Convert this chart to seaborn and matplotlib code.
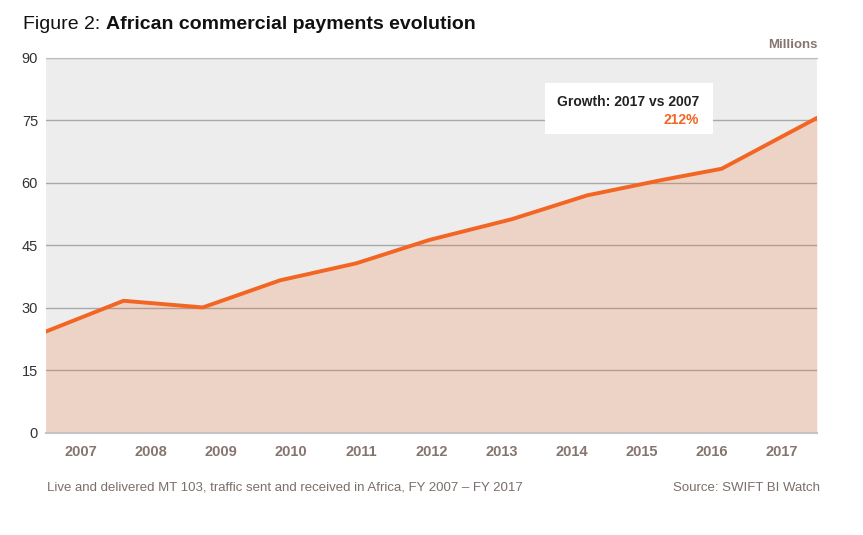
import numpy as np
import pandas as pd
import matplotlib
matplotlib.use("Agg")
import matplotlib.pyplot as plt
import seaborn as sns
from matplotlib.patches import Rectangle

# data (millions of MT 103 messages)
period = [2006.5, 2007.61, 2008.74, 2009.84, 2010.93, 2011.97, 2013.15, 2014.22, 2015.29, 2016.14, 2017.5]
traffic = [24.3, 31.7, 30.1, 36.6, 40.7, 46.3, 51.3, 57.0, 60.7, 63.4, 75.6]
years = [2007, 2008, 2009, 2010, 2011, 2012, 2013, 2014, 2015, 2016, 2017]
y_ticks = [0, 15, 30, 45, 60, 75, 90]

ORANGE = '#F26522'
BROWN = '#85756E'

sns.set_style("white")
plt.rcParams['font.family'] = ['Liberation Sans', 'DejaVu Sans']

df = pd.DataFrame({'period': period, 'traffic': traffic})

fig = plt.figure(figsize=(8.63, 5.35), dpi=100)
ax = fig.add_axes([0.053, 0.191, 0.8937, 0.7007])
ax.set_facecolor('#ECEDEC')

ax.fill_between(df['period'], df['traffic'], 0, color=ORANGE, alpha=0.19, lw=0, zorder=1)
sns.lineplot(data=df, x='period', y='traffic', ax=ax, color=ORANGE, lw=2.8, zorder=3)

ax.set_xlim(years[0] - 0.5, years[-1] + 0.5)
ax.set_ylim(0, 90)
ax.set_yticks(y_ticks)
ax.set_yticklabels([str(v) for v in y_ticks], fontsize=10.5, color='#333333')

# band boundaries as major ticks, labels at band centres
ax.set_xticks([y - 0.5 for y in years] + [years[-1] + 0.5])
ax.set_xticklabels([])
ax.set_xticks(years, minor=True)
ax.set_xticklabels([str(y) for y in years], minor=True, fontsize=10.5,
                   fontweight='bold', color=BROWN)
ax.tick_params(axis='x', which='major', length=4, width=1, color='#BDBDBD', direction='out')
ax.tick_params(axis='x', which='minor', length=0, pad=9)
ax.tick_params(axis='y', length=0, pad=5.5)

ax.set_axisbelow(True)
ax.yaxis.grid(True, color='#A8A8A8', lw=1)
ax.xaxis.grid(False)
for s in ['left', 'right']:
    ax.spines[s].set_visible(False)
ax.spines['top'].set_color('#BDBDBD')
ax.spines['bottom'].set_color('#C4C4C4')
ax.spines['bottom'].set_linewidth(1.5)
ax.set_xlabel('')
ax.set_ylabel('')

# growth call-out
ax.add_patch(Rectangle((0.647, 0.798), 0.218, 0.136, transform=ax.transAxes,
                       facecolor='white', edgecolor='none', zorder=4))
ax.text(0.847, 0.883, 'Growth: 2017 vs 2007', transform=ax.transAxes, ha='right', va='center',
        fontsize=10, fontweight='bold', color='#222222', zorder=5)
ax.text(0.847, 0.835, '212%', transform=ax.transAxes, ha='right', va='center',
        fontsize=10, fontweight='bold', color=ORANGE, zorder=5)

fig.text(0.947, 0.916, 'Millions', ha='right', va='center', fontsize=9.5,
         fontweight='bold', color=BROWN)

fig.text(0.027, 0.955, 'Figure 2: ', ha='left', va='center', fontsize=14, color='#111111')
fig.canvas.draw()
t = fig.texts[-1]
bb = t.get_window_extent().transformed(fig.transFigure.inverted())
fig.text(bb.x1, 0.955, 'African commercial payments evolution', ha='left', va='center',
         fontsize=14, fontweight='bold', color='#111111')

fig.text(0.054, 0.088, 'Live and delivered MT 103, traffic sent and received in Africa, FY 2007 \u2013 FY 2017',
         ha='left', va='center', fontsize=9.5, color='#7A6F6A')
fig.text(0.95, 0.088, 'Source: SWIFT BI Watch', ha='right', va='center', fontsize=9.5, color='#7A6F6A')

plt.savefig('out.png', dpi=100)
